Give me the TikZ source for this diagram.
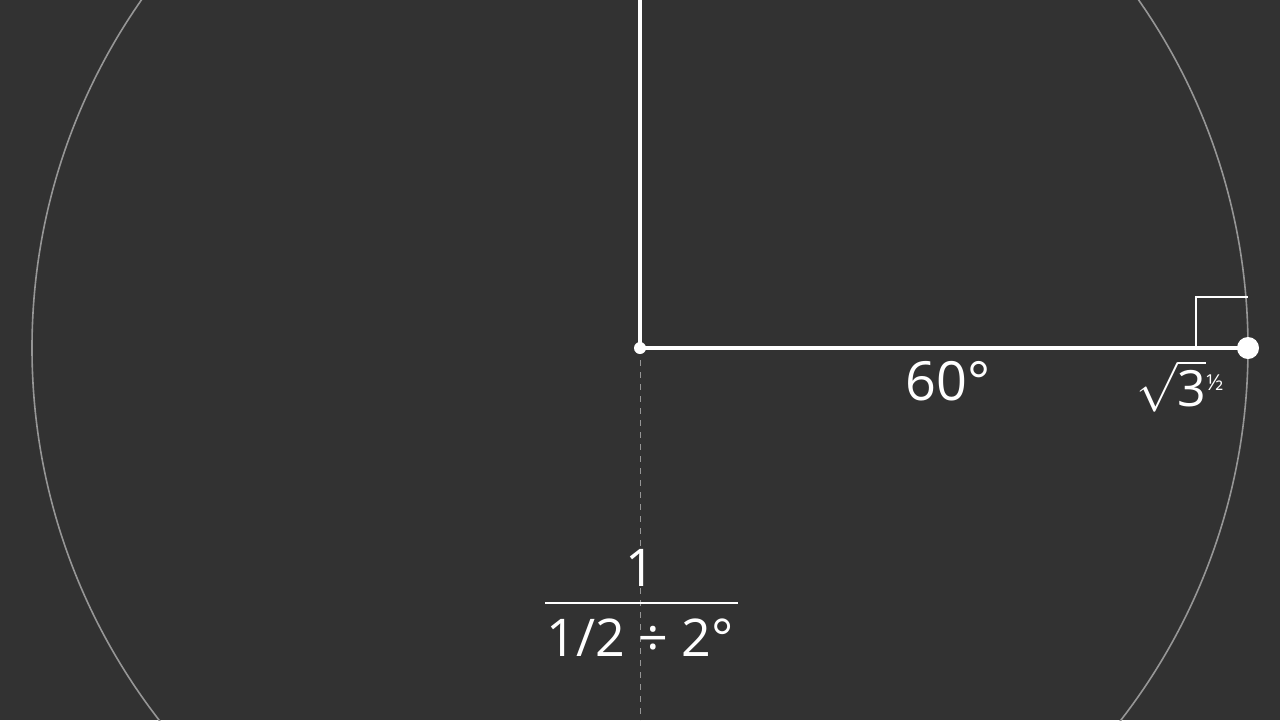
\documentclass[tikz,border=0pt]{standalone}
\usepackage{fontspec}
\setmainfont{Open Sans}
\begin{document}
\begin{tikzpicture}[x=0.5pt,y=-0.5pt,
  ln/.style={draw=white,line width=1.8pt},
  lbl/.style={text=white,inner sep=0pt}]
\fill[fill={rgb,255:red,50;green,50;blue,50}] (0,0) rectangle (1280,720);
\useasboundingbox (0,0) rectangle (1280,720);
\begin{scope}
\clip (0,0) rectangle (1280,720);
\draw[draw={rgb,255:red,150;green,150;blue,150},line width=0.8pt] (640,348) circle (608);
\end{scope}
\coordinate (O) at (640,348);
\coordinate (T) at (640,0);
\coordinate (B) at (640,720);
\coordinate (P) at (1248,348);
\coordinate (Q1) at (1196,348);
\coordinate (Q2) at (1196,297);
\coordinate (Q3) at (1248,297);
\draw[draw={rgb,255:red,150;green,150;blue,150},line width=0.5pt,dash pattern=on 3pt off 3pt] (O) -- (B);
\draw[ln] (T) -- (O) -- (P);
\draw[draw=white,line width=1pt] (Q1) -- (Q2) -- (Q3);
\fill[white] (O) circle (6);
\fill[white] (P) circle (11);
\node[lbl,font=\fontsize{27}{30}\selectfont] (a) at (948,381) {60°};
\node[lbl,font=\fontsize{24}{28}\selectfont] (r) at (1180,386) {$\sqrt{\mbox{\fontsize{25}{28}\selectfont 3}}$\raisebox{8pt}{\fontsize{11}{12}\selectfont ½}};
\node[lbl,font=\fontsize{26}{30}\selectfont] (n) at (640,568) {1};
\draw[draw=white,line width=1.4pt] (545,603) -- (738,603);
\node[lbl,font=\fontsize{26}{30}\selectfont] (d) at (640,638) {1/2 ÷ 2°};
\end{tikzpicture}
\end{document}
